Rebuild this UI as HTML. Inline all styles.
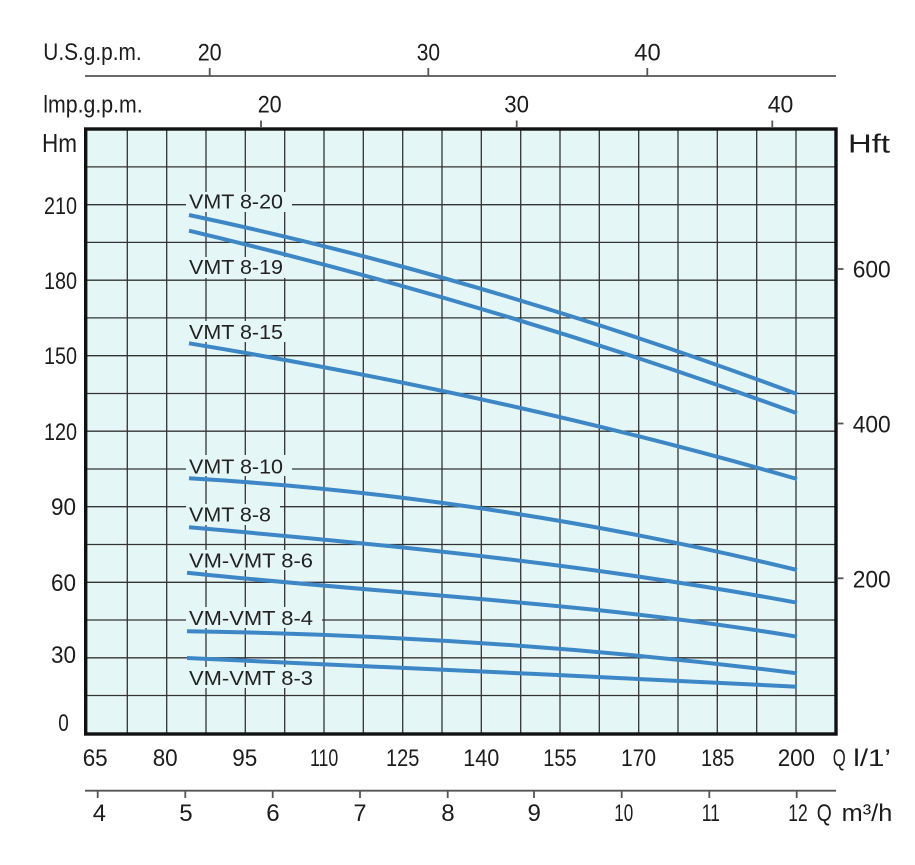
<!DOCTYPE html>
<html><head><meta charset="utf-8"><style>
html,body{margin:0;padding:0;background:#fff;}
svg{display:block;}
.ax{font-family:"Liberation Sans",sans-serif;font-size:24px;fill:#1c1c1c;}
.lb{font-family:"Liberation Sans",sans-serif;font-size:20px;fill:#222;}
</style></head><body>
<svg width="915" height="865" viewBox="0 0 915 865" xmlns="http://www.w3.org/2000/svg">
<!-- plot background -->
<rect x="86" y="129" width="750" height="604" fill="#e5f6f6"/>
<!-- grid -->
<g stroke="#333" stroke-width="1.3">
<line x1="127.3" y1="129" x2="127.3" y2="733"/>
<line x1="166.7" y1="129" x2="166.7" y2="733"/>
<line x1="206" y1="129" x2="206" y2="733"/>
<line x1="245.3" y1="129" x2="245.3" y2="733"/>
<line x1="284.7" y1="129" x2="284.7" y2="733"/>
<line x1="324" y1="129" x2="324" y2="733"/>
<line x1="363.3" y1="129" x2="363.3" y2="733"/>
<line x1="402.7" y1="129" x2="402.7" y2="733"/>
<line x1="442" y1="129" x2="442" y2="733"/>
<line x1="481.3" y1="129" x2="481.3" y2="733"/>
<line x1="520.7" y1="129" x2="520.7" y2="733"/>
<line x1="560" y1="129" x2="560" y2="733"/>
<line x1="599.3" y1="129" x2="599.3" y2="733"/>
<line x1="638.7" y1="129" x2="638.7" y2="733"/>
<line x1="678" y1="129" x2="678" y2="733"/>
<line x1="717.3" y1="129" x2="717.3" y2="733"/>
<line x1="756.7" y1="129" x2="756.7" y2="733"/>
<line x1="796" y1="129" x2="796" y2="733"/>
<line x1="86" y1="695.5" x2="836" y2="695.5"/>
<line x1="86" y1="657.8" x2="836" y2="657.8"/>
<line x1="86" y1="620" x2="836" y2="620"/>
<line x1="86" y1="582.3" x2="836" y2="582.3"/>
<line x1="86" y1="544.5" x2="836" y2="544.5"/>
<line x1="86" y1="506.7" x2="836" y2="506.7"/>
<line x1="86" y1="469" x2="836" y2="469"/>
<line x1="86" y1="431.2" x2="836" y2="431.2"/>
<line x1="86" y1="393.5" x2="836" y2="393.5"/>
<line x1="86" y1="355.7" x2="836" y2="355.7"/>
<line x1="86" y1="317.9" x2="836" y2="317.9"/>
<line x1="86" y1="280.2" x2="836" y2="280.2"/>
<line x1="86" y1="242.4" x2="836" y2="242.4"/>
<line x1="86" y1="204.7" x2="836" y2="204.7"/>
<line x1="86" y1="166.9" x2="836" y2="166.9"/>
</g>
<!-- label backgrounds -->
<g fill="#e5f6f6">
<rect x="186" y="192" width="106" height="20"/>
<rect x="186" y="257" width="106" height="21"/>
<rect x="186" y="321" width="106" height="21"/>
<rect x="186" y="455" width="106" height="21"/>
<rect x="186" y="504" width="94" height="21"/>
<rect x="186" y="550" width="134" height="20"/>
<rect x="186" y="607" width="136" height="21"/>
<rect x="186" y="667" width="136" height="21"/>
</g>
<!-- curves -->
<g fill="none" stroke="#3d87c7" stroke-width="4" stroke-linecap="butt">
<path d="M189,215 C391.7,257.9 594.3,318.6 797,394"/>
<path d="M189,230.7 C391.7,278.8 594.3,339.4 797,413.3"/>
<path d="M189,343.3 C391.7,376.8 594.3,420.6 797,479"/>
<path d="M189,478.3 C391.7,490.1 594.3,520.8 797,570"/>
<path d="M189,527.3 C391.7,544.9 594.3,565 797,602.7"/>
<path d="M187,572.7 C390.3,594.3 593.7,602.5 797,636.7"/>
<path d="M187,631.3 C390.3,634.2 593.7,647.75 797,673.3"/>
<path d="M187,658 C390.3,666.4 593.7,677 797,686.7"/>
</g>
<!-- curve labels -->
<text class="lb" x="189" y="208.5" textLength="94" lengthAdjust="spacingAndGlyphs">VMT 8-20</text>
<text class="lb" x="189" y="274" textLength="94" lengthAdjust="spacingAndGlyphs">VMT 8-19</text>
<text class="lb" x="189" y="339" textLength="94" lengthAdjust="spacingAndGlyphs">VMT 8-15</text>
<text class="lb" x="189" y="473.5" textLength="94" lengthAdjust="spacingAndGlyphs">VMT 8-10</text>
<text class="lb" x="189" y="521.7" textLength="82" lengthAdjust="spacingAndGlyphs">VMT 8-8</text>
<text class="lb" x="189" y="567.7" textLength="124" lengthAdjust="spacingAndGlyphs">VM-VMT 8-6</text>
<text class="lb" x="189" y="625" textLength="124" lengthAdjust="spacingAndGlyphs">VM-VMT 8-4</text>
<text class="lb" x="189" y="685" textLength="124" lengthAdjust="spacingAndGlyphs">VM-VMT 8-3</text>
<!-- frame -->
<rect x="85.7" y="129" width="750.3" height="605" fill="none" stroke="#111" stroke-width="3.4"/>
<!-- top axes -->
<g stroke="#555" stroke-width="1.8">
<line x1="85" y1="76" x2="836" y2="76"/>
<line x1="209.7" y1="68" x2="209.7" y2="76"/>
<line x1="428.3" y1="68" x2="428.3" y2="76"/>
<line x1="647.3" y1="68" x2="647.3" y2="76"/>
<line x1="261" y1="120.5" x2="261" y2="128"/>
<line x1="516.7" y1="120.5" x2="516.7" y2="128"/>
<line x1="772.3" y1="120.5" x2="772.3" y2="128"/>
<!-- bottom m3/h axis -->
<line x1="85" y1="790.7" x2="836" y2="790.7"/>
<line x1="97.7" y1="790.7" x2="97.7" y2="798"/>
<line x1="185.3" y1="790.7" x2="185.3" y2="798"/>
<line x1="272.7" y1="790.7" x2="272.7" y2="798"/>
<line x1="360" y1="790.7" x2="360" y2="798"/>
<line x1="447.7" y1="790.7" x2="447.7" y2="798"/>
<line x1="534" y1="790.7" x2="534" y2="798"/>
<line x1="621.7" y1="790.7" x2="621.7" y2="798"/>
<line x1="709.3" y1="790.7" x2="709.3" y2="798"/>
<line x1="796.7" y1="790.7" x2="796.7" y2="798"/>
<!-- right ticks -->
<line x1="837" y1="269" x2="843.5" y2="269"/>
<line x1="837" y1="423.5" x2="843.5" y2="423.5"/>
<line x1="837" y1="578.3" x2="843.5" y2="578.3"/>
</g>
<!-- top labels -->
<text class="ax" x="43.3" y="60" textLength="98.4" lengthAdjust="spacingAndGlyphs">U.S.g.p.m.</text>
<text class="ax" x="197.7" y="60.7" textLength="24" lengthAdjust="spacingAndGlyphs">20</text>
<text class="ax" x="416.7" y="60.7" textLength="23.3" lengthAdjust="spacingAndGlyphs">30</text>
<text class="ax" x="634.3" y="60.7" textLength="26.4" lengthAdjust="spacingAndGlyphs">40</text>
<text class="ax" x="43.3" y="112.7" textLength="99.4" lengthAdjust="spacingAndGlyphs">lmp.g.p.m.</text>
<text class="ax" x="257.7" y="112.7" textLength="24" lengthAdjust="spacingAndGlyphs">20</text>
<text class="ax" x="504.3" y="112.7" textLength="24.7" lengthAdjust="spacingAndGlyphs">30</text>
<text class="ax" x="767.7" y="112.7" textLength="25.6" lengthAdjust="spacingAndGlyphs">40</text>
<text class="ax" x="42" y="152" textLength="35" lengthAdjust="spacingAndGlyphs" style="font-size:26px">Hm</text>
<text class="ax" x="848" y="152.7" textLength="42" lengthAdjust="spacingAndGlyphs" style="font-size:26px">Hft</text>
<!-- left labels -->
<text class="ax" x="44" y="214" textLength="33" lengthAdjust="spacingAndGlyphs">210</text>
<text class="ax" x="44" y="289" textLength="33" lengthAdjust="spacingAndGlyphs">180</text>
<text class="ax" x="44" y="364" textLength="33" lengthAdjust="spacingAndGlyphs">150</text>
<text class="ax" x="44" y="440" textLength="33" lengthAdjust="spacingAndGlyphs">120</text>
<text class="ax" x="51" y="515" textLength="25" lengthAdjust="spacingAndGlyphs">90</text>
<text class="ax" x="51" y="591" textLength="25" lengthAdjust="spacingAndGlyphs">60</text>
<text class="ax" x="51" y="663" textLength="25" lengthAdjust="spacingAndGlyphs">30</text>
<text class="ax" x="58.3" y="731" textLength="10.5" lengthAdjust="spacingAndGlyphs">0</text>
<!-- right labels -->
<text class="ax" x="852.7" y="277.5" textLength="38" lengthAdjust="spacingAndGlyphs">600</text>
<text class="ax" x="852.7" y="432.5" textLength="38" lengthAdjust="spacingAndGlyphs">400</text>
<text class="ax" x="852.7" y="587.5" textLength="38" lengthAdjust="spacingAndGlyphs">200</text>
<!-- bottom l/min labels -->
<text class="ax" x="82.7" y="766" textLength="25" lengthAdjust="spacingAndGlyphs">65</text>
<text class="ax" x="152.7" y="766" textLength="25" lengthAdjust="spacingAndGlyphs">80</text>
<text class="ax" x="232.3" y="766" textLength="25" lengthAdjust="spacingAndGlyphs">95</text>
<text class="ax" x="310" y="766" textLength="28.3" lengthAdjust="spacingAndGlyphs">110</text>
<text class="ax" x="386" y="766" textLength="33.3" lengthAdjust="spacingAndGlyphs">125</text>
<text class="ax" x="463.3" y="766" textLength="36" lengthAdjust="spacingAndGlyphs">140</text>
<text class="ax" x="543.3" y="766" textLength="33.4" lengthAdjust="spacingAndGlyphs">155</text>
<text class="ax" x="621" y="766" textLength="35" lengthAdjust="spacingAndGlyphs">170</text>
<text class="ax" x="701" y="766" textLength="33.3" lengthAdjust="spacingAndGlyphs">185</text>
<text class="ax" x="777.7" y="766" textLength="37.3" lengthAdjust="spacingAndGlyphs">200</text>
<text class="ax" x="832.7" y="766" textLength="13" lengthAdjust="spacingAndGlyphs">Q</text>
<text class="ax" x="853.3" y="766" textLength="37.7" lengthAdjust="spacingAndGlyphs">l/1’</text>
<!-- bottom m3/h labels -->
<text class="ax" x="92.7" y="821" textLength="13.3" lengthAdjust="spacingAndGlyphs">4</text>
<text class="ax" x="179.3" y="821" textLength="13.4" lengthAdjust="spacingAndGlyphs">5</text>
<text class="ax" x="266.3" y="821" textLength="13.4" lengthAdjust="spacingAndGlyphs">6</text>
<text class="ax" x="353.5" y="821" textLength="13" lengthAdjust="spacingAndGlyphs">7</text>
<text class="ax" x="441.3" y="821" textLength="13.4" lengthAdjust="spacingAndGlyphs">8</text>
<text class="ax" x="527.5" y="821" textLength="13.4" lengthAdjust="spacingAndGlyphs">9</text>
<text class="ax" x="614.3" y="821" textLength="19" lengthAdjust="spacingAndGlyphs">10</text>
<text class="ax" x="701.7" y="821" textLength="18.3" lengthAdjust="spacingAndGlyphs">11</text>
<text class="ax" x="788.3" y="821" textLength="19.4" lengthAdjust="spacingAndGlyphs">12</text>
<text class="ax" x="816.7" y="821" textLength="15" lengthAdjust="spacingAndGlyphs">Q</text>
<text class="ax" x="841.7" y="821" textLength="50.6" lengthAdjust="spacingAndGlyphs">m³/h</text>
</svg>
</body></html>
